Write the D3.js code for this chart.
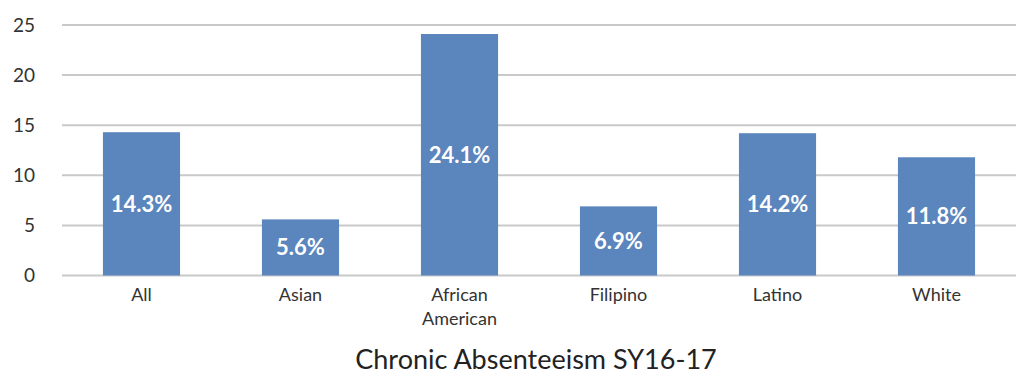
<!DOCTYPE html>
<html>
<head>
<meta charset="utf-8">
<script src="https://cdn.jsdelivr.net/npm/d3@7"></script>
<style>
  body { margin: 0; background: #fff; }
  text { font-family: Lato, "Noto Sans", sans-serif; }
</style>
</head>
<body>
<div id="chart"></div>
<script>
// Data
const categories = ["All", "Asian", "African American", "Filipino", "Latino", "White"];
const values = [14.3, 5.6, 24.1, 6.9, 14.2, 11.8];
const yTicks = [0, 5, 10, 15, 20, 25];
const title = "Chronic Absenteeism SY16-17";

const width = 1017;
const height = 386;

const svg = d3
  .select("#chart")
  .append("svg")
  .attr("width", width)
  .attr("height", height);

// Scales
const x = d3
  .scaleBand()
  .domain(categories)
  .range([62, 1016])
  .paddingInner(0.515)
  .paddingOuter(0.2575);

const y = d3.scaleLinear().domain([0, 25]).range([275.5, 25]);

// Gridlines
svg
  .append("g")
  .selectAll("line")
  .data(yTicks)
  .enter()
  .append("line")
  .attr("x1", 62)
  .attr("x2", 1016)
  .attr("y1", (d) => y(d))
  .attr("y2", (d) => y(d))
  .attr("stroke", "#c9c9c9")
  .attr("stroke-width", 2);

// Y tick labels
svg
  .append("g")
  .selectAll("text")
  .data(yTicks)
  .enter()
  .append("text")
  .attr("x", 35)
  .attr("y", (d) => y(d))
  .attr("dy", "0.35em")
  .attr("text-anchor", "end")
  .attr("fill", "#333")
  .style("font-size", "19px")
  .text((d) => d);

// Bars
svg
  .append("g")
  .selectAll("rect")
  .data(values)
  .enter()
  .append("rect")
  .attr("x", (d, i) => x(categories[i]))
  .attr("width", x.bandwidth())
  .attr("y", (d) => y(d))
  .attr("height", (d) => y(0) - y(d))
  .attr("fill", "#5a85bd");

// Value labels
svg
  .append("g")
  .selectAll("text")
  .data(values)
  .enter()
  .append("text")
  .attr("x", (d, i) => x(categories[i]) + x.bandwidth() / 2)
  .attr("y", (d) => (y(d) + y(0)) / 2)
  .attr("dy", "0.36em")
  .attr("text-anchor", "middle")
  .attr("fill", "#fff")
  .style("font-size", "22px")
  .style("font-weight", "bold")
  .text((d) => d.toFixed(1) + "%");

// Category labels
const catLabels = svg
  .append("g")
  .selectAll("text")
  .data(categories)
  .enter()
  .append("text")
  .attr("x", (d) => x(d) + x.bandwidth() / 2)
  .attr("y", 301)
  .attr("text-anchor", "middle")
  .attr("fill", "#333")
  .style("font-size", "18px");

catLabels.each(function (d) {
  const words = d.split(" ");
  const t = d3.select(this);
  words.forEach((w, i) => {
    t.append("tspan")
      .attr("x", x(d) + x.bandwidth() / 2)
      .attr("dy", i === 0 ? 0 : 24)
      .text(w);
  });
});

// Title
svg
  .append("text")
  .attr("x", 536)
  .attr("y", 369)
  .attr("text-anchor", "middle")
  .attr("fill", "#222")
  .style("font-size", "27px")
  .style("font-weight", 400)
  .text(title);
</script>
</body>
</html>
